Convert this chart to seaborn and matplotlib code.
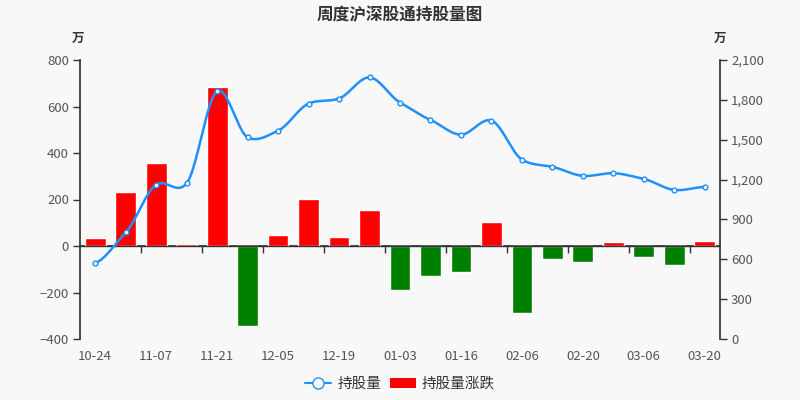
import numpy as np
import pandas as pd
import seaborn as sns
import matplotlib.pyplot as plt
from matplotlib.lines import Line2D
from matplotlib.patches import Patch

# weekly data, unit: 万股
dates = ['10-24', '10-31', '11-07', '11-14', '11-21', '11-28', '12-05', '12-12',
         '12-19', '12-26', '01-03', '01-09', '01-16', '01-23', '02-06', '02-13',
         '02-20', '02-27', '03-06', '03-13', '03-20']
change = [33, 232, 356, 10, 685, -345, 47, 202, 39, 156, -190,
          -130, -110, 103, -289, -56, -69, 19, -47, -82, 21]
holding = [570, 802, 1162, 1172, 1866, 1518, 1568, 1772, 1810, 1969, 1780,
           1649, 1538, 1644, 1351, 1296, 1228, 1248, 1205, 1122, 1145]

bg = '#f8f8f8'
sns.set_theme(style='white')
plt.rcParams['font.family'] = ['Noto Sans CJK SC', 'DejaVu Sans']

df = pd.DataFrame({'date': dates, 'change': change, 'holding': holding})
df['color'] = np.where(df['change'] >= 0, '#ff0000', '#008000')

fig = plt.figure(figsize=(8, 4), dpi=100, facecolor=bg)
ax = fig.add_axes([0.1, 0.1525, 0.8, 0.6975])
ax.set_facecolor(bg)

sns.barplot(data=df, x='date', y='change', hue='date', palette=list(df['color']),
            legend=False, width=0.68, ax=ax, saturation=1)

ax.set_ylim(-400, 800)
ax.set_yticks(range(-400, 801, 200))
ax.set_xlim(-0.5, len(dates) - 0.5)
ax.set_xlabel('')
ax.set_ylabel('')

# category labels every other week at the bottom
ax.set_xticks(range(0, len(dates), 2))
ax.set_xticklabels(dates[::2])
ax.tick_params(axis='x', length=0, pad=8, labelsize=9.5, labelcolor='#555555')
ax.tick_params(axis='y', left=True, length=5, width=1, color='#333333',
               labelsize=9.5, labelcolor='#555555', pad=3)
for s in ['top', 'right', 'bottom']:
    ax.spines[s].set_visible(False)
ax.spines['left'].set_color('#333333')

# axis line at zero with boundary ticks
ax.axhline(0, color='#333333', lw=1, zorder=5)
zx = ax.secondary_xaxis(0, transform=ax.transData)
zx.set_xticks(np.arange(1.5, len(dates), 2))
zx.set_xticklabels([])
zx.tick_params(length=5, width=1, color='#333333', direction='out')
zx.spines['bottom'].set_color('#333333')

# holding line on the right axis
ax2 = ax.twinx()
ax2.set_ylim(0, 2100)
ax2.set_yticks(range(0, 2101, 300))
ax2.set_yticklabels([f'{v:,}' for v in range(0, 2101, 300)])
ax2.tick_params(axis='y', right=True, length=5, width=1, color='#333333',
                labelsize=9.5, labelcolor='#555555', pad=3)
for s in ['top', 'left', 'bottom']:
    ax2.spines[s].set_visible(False)
ax2.spines['right'].set_color('#333333')

# smooth drawing of the line (Catmull-Rom through the data points)
xs = np.arange(len(holding), dtype=float)
ys = np.array(holding, dtype=float)
px = np.concatenate([[xs[0]], xs, [xs[-1]]])
py = np.concatenate([[ys[0]], ys, [ys[-1]]])
cx, cy = [], []
t = np.linspace(0, 1, 25)
for i in range(1, len(px) - 2):
    p0, p1, p2, p3 = py[i - 1], py[i], py[i + 1], py[i + 2]
    m1 = (p2 - p0) / 2 * 0.8
    m2 = (p3 - p1) / 2 * 0.8
    h00 = 2 * t**3 - 3 * t**2 + 1
    h10 = t**3 - 2 * t**2 + t
    h01 = -2 * t**3 + 3 * t**2
    h11 = t**3 - t**2
    cy.extend(h00 * p1 + h10 * m1 + h01 * p2 + h11 * m2)
    cx.extend(px[i] + t * (px[i + 1] - px[i]))
ax2.plot(cx, cy, color='#1e90ff', lw=1.8, zorder=3)
sns.scatterplot(x=xs, y=ys, ax=ax2, marker='o', s=12, color='white',
                edgecolor='#1e90ff', linewidth=1, zorder=4)

fig.text(0.5, 0.962, '周度沪深股通持股量图', ha='center', va='center',
         fontsize=12, fontweight='bold', color='#333333')
fig.text(0.097, 0.905, '万', ha='center', va='center', fontsize=9,
         fontweight='bold', color='#333333')
fig.text(0.9, 0.905, '万', ha='center', va='center', fontsize=9,
         fontweight='bold', color='#333333')

handles = [Line2D([0], [0], color='#1e90ff', lw=1.5, marker='o', markersize=8,
                  markerfacecolor='white', markeredgecolor='#1e90ff'),
           Patch(facecolor='#ff0000', edgecolor='none')]
fig.legend(handles, ['持股量', '持股量涨跌'], loc='center', ncol=2,
           bbox_to_anchor=(0.5, 0.04), frameon=False, fontsize=10.5,
           handlelength=1.8, handletextpad=0.4, columnspacing=0.6,
           labelcolor='#333333')

fig.savefig('out.png', dpi=100, facecolor=bg)
